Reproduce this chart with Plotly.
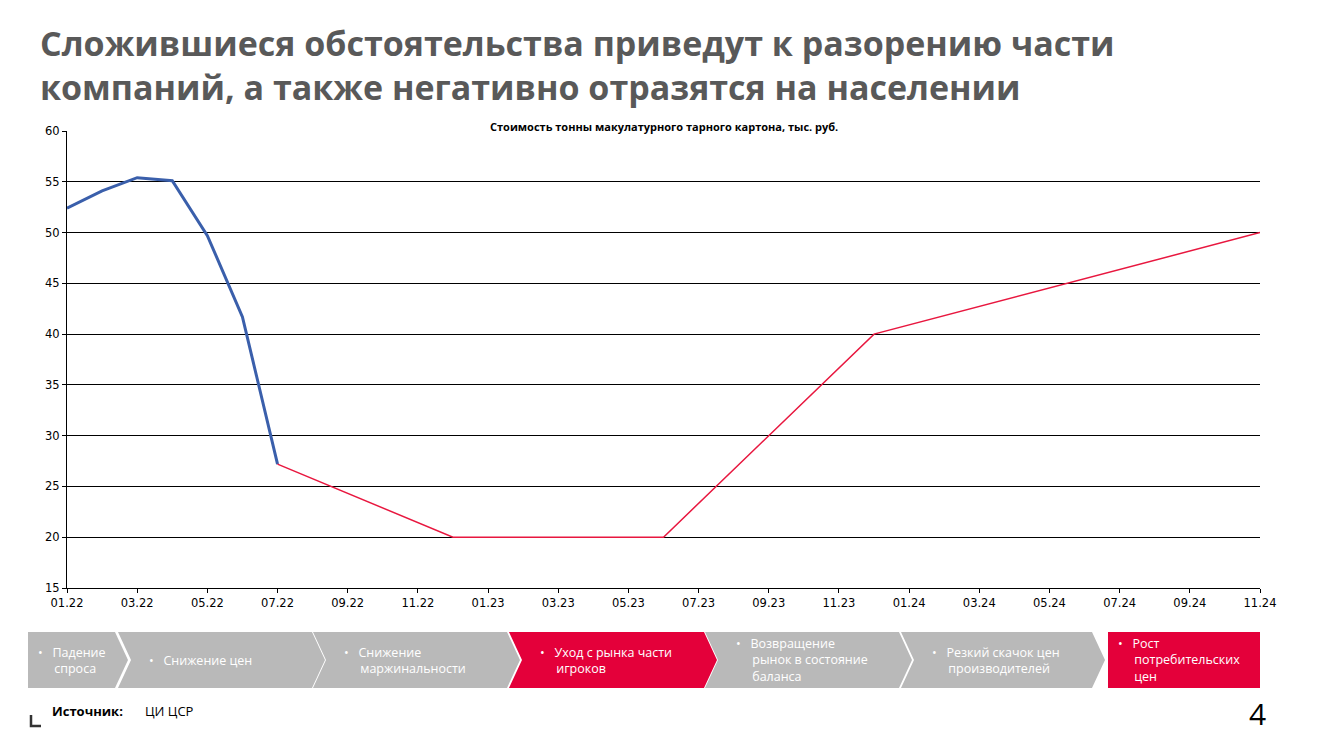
import plotly.graph_objects as go

tick_labels = ["01.22","03.22","05.22","07.22","09.22","11.22","01.23","03.23","05.23","07.23","09.23","11.23","01.24","03.24","05.24","07.24","09.24","11.24"]
blue_months = [0, 1, 2, 3, 4, 5, 6]
blue_values = [52.4, 54.1, 55.4, 55.1, 49.7, 41.7, 27.2]
red_months = [6, 11, 17, 23, 34]
red_values = [27.2, 20.0, 20.0, 40.0, 50.0]
stages = ["Падение<br>спроса", "Снижение цен", "Снижение<br>маржинальности", "Уход с рынка части<br>игроков",
          "Возвращение<br>рынок в состояние<br>баланса", "Резкий скачок цен<br>производителей", "Рост<br>потребительских<br>цен"]
stage_red = [False, False, False, True, False, False, True]

# page has an 8px body margin; figure sized to fit the window
W, H = 1315, 733
PL, PR, PT, PB = 67, 1260, 131, 588  # plot area in window pixels

fig = go.Figure()
fig.add_trace(go.Scatter(x=blue_months, y=blue_values, mode="lines", line=dict(color="#3a5fab", width=3), showlegend=False))
fig.add_trace(go.Scatter(x=red_months, y=red_values, mode="lines", line=dict(color="#e8173f", width=1.5), showlegend=False))

def px(x): return (x - PL) / (PR - PL)
def py(y): return (PB - y) / (PB - PT)

shapes = []
annots = []
bounds = [(28,128),(127,325),(322,520),(518,717),(714,912),(910,1105),(1108,1260)]
y0, y1, ym = 632, 688, 660
d = 13
for i, (a, b) in enumerate(bounds):
    col = "#e4003a" if stage_red[i] else "#b9b9b9"
    if i == 6:
        pts = [(a,y0),(b,y0),(b,y1),(a,y1)]
    elif i == 0:
        pts = [(a,y0),(b-d,y0),(b,ym),(b-d,y1),(a,y1)]
    else:
        pts = [(a-d+4,y0),(b-d,y0),(b,ym),(b-d,y1),(a-d+4,y1),(a+4,ym)]
    path = "M " + " L ".join(f"{px(x):.5f},{py(y):.5f}" for x, y in pts) + " Z"
    shapes.append(dict(type="path", path=path, xref="paper", yref="paper", fillcolor=col, line=dict(width=0), layer="below"))
    tx = a + (8 if i in (0, 6) else 20)
    annots.append(dict(text="•&nbsp;&nbsp;&nbsp;" + stages[i].replace("<br>", "<br>&nbsp;&nbsp;&nbsp;&nbsp;&nbsp;"),
                       x=px(tx), y=py(ym), xref="paper", yref="paper", xanchor="left", yanchor="middle",
                       align="left", showarrow=False,
                       font=dict(family="Open Sans", size=12.5, color="white")))
shapes.append(dict(type="path", path=f"M {px(31)},{py(715)} L {px(31)},{py(726)} L {px(41)},{py(726)}",
                   xref="paper", yref="paper", line=dict(color="#333", width=2.5)))

annots += [
    dict(text="<b>Сложившиеся обстоятельства приведут к разорению части<br>компаний, а также негативно отразятся на населении</b>",
         x=px(38), y=py(18), xref="paper", yref="paper", xanchor="left", yanchor="top", align="left", showarrow=False,
         font=dict(family="Open Sans", size=34, color="#595959")),
    dict(text="<b>Стоимость тонны макулатурного тарного картона, тыс. руб.</b>", x=px(664), y=py(117), xref="paper", yref="paper",
         showarrow=False, font=dict(family="Open Sans", size=11, color="black")),
    dict(text="<b>Источник:</b>", x=px(50), y=py(722), xref="paper", yref="paper", xanchor="left", showarrow=False,
         font=dict(family="Open Sans", size=13, color="black")),
    dict(text="ЦИ ЦСР", x=px(143), y=py(722), xref="paper", yref="paper", xanchor="left", showarrow=False,
         font=dict(family="Open Sans", size=13, color="black")),
    dict(text="4", x=px(1268), y=py(736), xref="paper", yref="paper", yanchor="bottom", showarrow=False,
         font=dict(family="Open Sans", size=30, color="black")),
]

fig.update_layout(
    width=W, height=H, margin=dict(l=PL - 8, r=W - (PR - 8), t=PT - 8, b=H - (PB - 8)),
    plot_bgcolor="white", paper_bgcolor="white",
    shapes=shapes, annotations=annots,
    xaxis=dict(range=[0, 34], tickvals=list(range(0, 35, 2)), ticktext=tick_labels, showgrid=False, zeroline=False,
               showline=True, linecolor="black", linewidth=1, ticks="outside", ticklen=4, tickcolor="black",
               tickfont=dict(family="DejaVu Sans", size=11.5, color="black")),
    yaxis=dict(range=[15, 60], dtick=5, showgrid=True, gridcolor="black", gridwidth=1, zeroline=False,
               showline=True, linecolor="black", ticks="outside", ticklen=4, tickcolor="black",
               tickfont=dict(family="DejaVu Sans", size=11.5, color="black")),
)
fig.write_html("out.html")
